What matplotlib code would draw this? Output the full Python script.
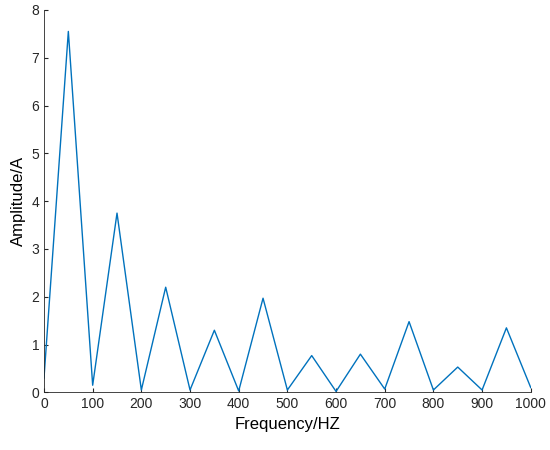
import matplotlib
matplotlib.use('Agg')
import matplotlib.pyplot as plt

freq = [0, 50, 100, 150, 200, 250, 300, 350, 400, 450, 500,
        550, 600, 650, 700, 750, 800, 850, 900, 950, 1000]
amp = [0.3, 7.55, 0.15, 3.75, 0.05, 2.2, 0.05, 1.3, 0.03, 1.97, 0.05,
       0.77, 0.02, 0.8, 0.07, 1.48, 0.05, 0.53, 0.05, 1.35, 0.1]

plt.rcParams['font.family'] = 'Liberation Sans'
fig = plt.figure(figsize=(5.5, 4.5), dpi=100)
ax = fig.add_axes([0.08, 0.128, 0.885, 0.85])
ax.plot(freq, amp, color='#0072BD', linewidth=1)
ax.set_xlim(0, 1000)
ax.set_ylim(0, 8)
ax.set_xticks(range(0, 1001, 100))
ax.set_yticks(range(0, 9))
ax.tick_params(direction='in', labelsize=10, length=3, colors='#262626')
ax.spines['top'].set_visible(False)
ax.spines['right'].set_visible(False)
for s in ax.spines.values():
    s.set_linewidth(0.6)
    s.set_color('#262626')
ax.set_xlabel('Frequency/HZ', fontsize=12)
ax.set_ylabel('Amplitude/A', fontsize=12)
fig.savefig('out.png')
